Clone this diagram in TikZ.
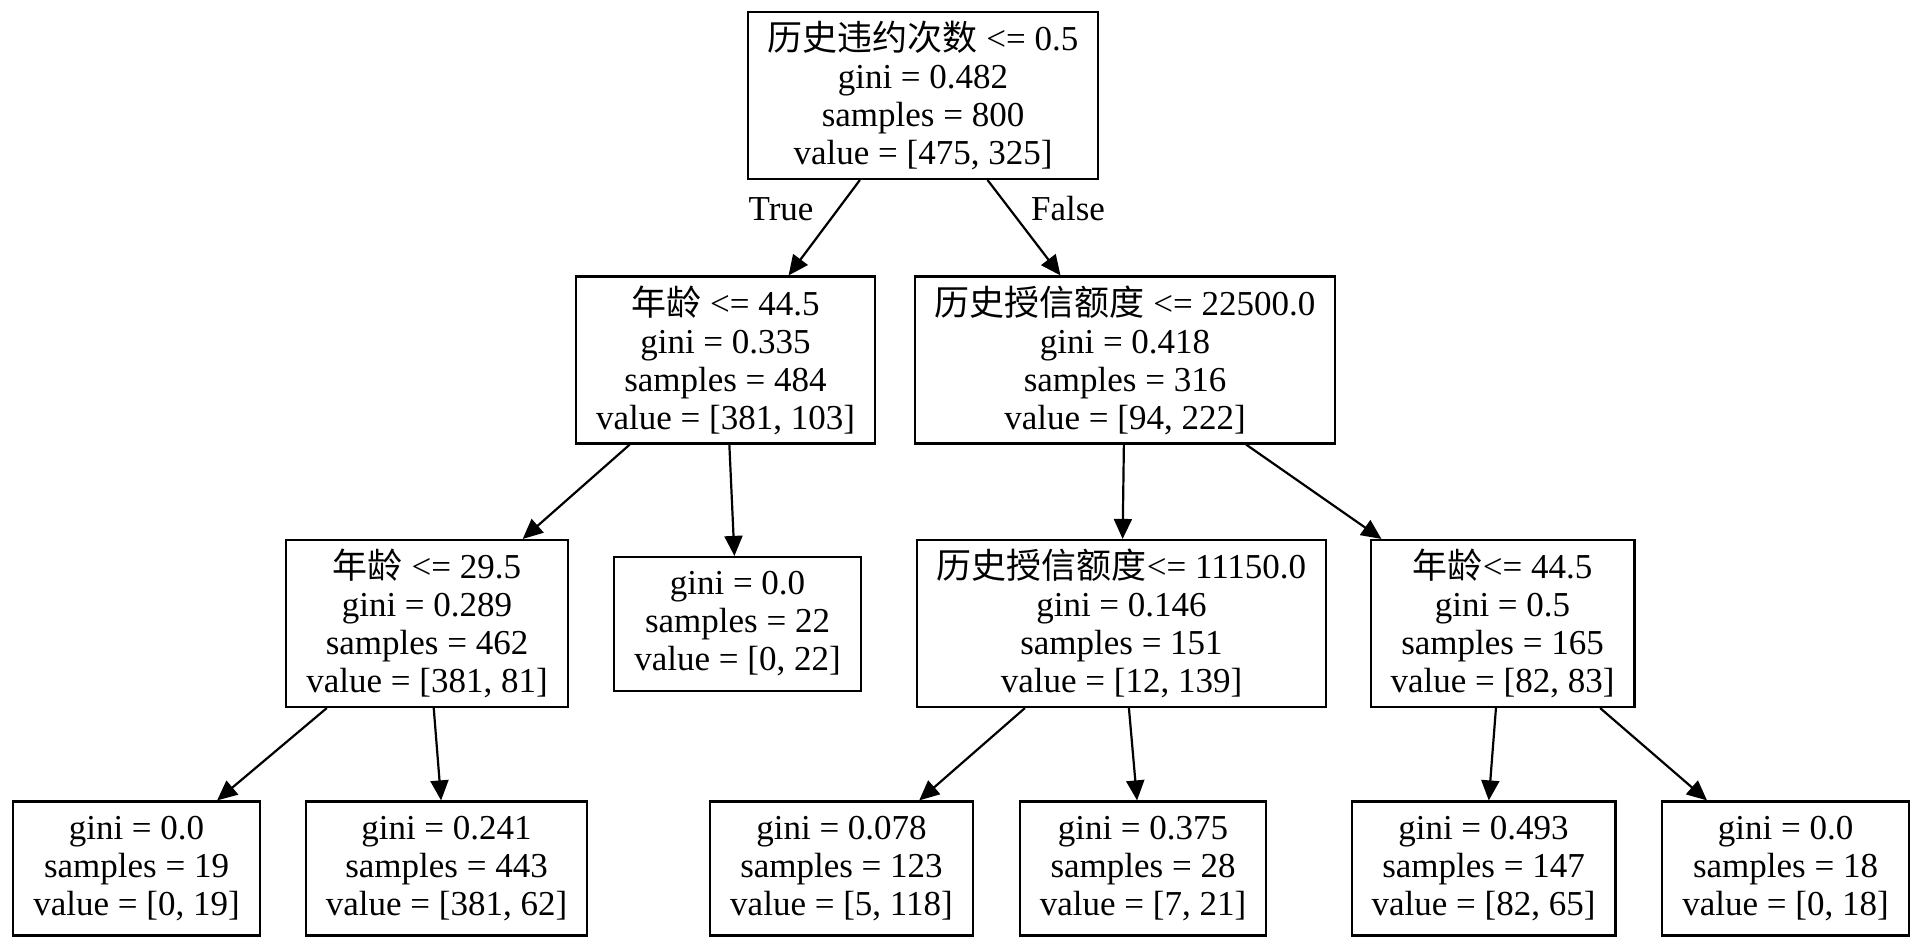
\documentclass[tikz,border=0pt]{standalone}
\usepackage{fontspec}
\setmainfont{Liberation Serif}
\newfontfamily\cjk{Noto Sans CJK SC}
\usetikzlibrary{arrows.meta}
\begin{document}
\begin{tikzpicture}[x=0.5pt,y=-0.5pt,
	every node/.style={ text=black, font=\fontsize{17.5}{19}\selectfont },
	tree/.style={ draw, rectangle, line width=1.1pt, align=center, inner xsep=10pt, inner ysep=4.5pt, minimum height=67pt },
	edge/.style={ line width=1.1pt, -{Triangle[length=10pt,width=9pt]} } ]
			\useasboundingbox (0,0) rectangle (1920,947);
			\node[tree] (root) at (923,95.5) {{\cjk 历史违约次数} <= 0.5\\gini = 0.482\\samples = 800\\value = [475, 325]};

			\node[tree] (t) at (725.5,360) {{\cjk 年龄} <= 44.5\\gini = 0.335\\samples = 484\\value = [381, 103]};
			\node[tree] (f) at (1125,360) {{\cjk 历史授信额度} <= 22500.0\\gini = 0.418\\samples = 316\\value = [94, 222]};

			\node[tree] (tt) at (427,623.5) {{\cjk 年龄} <= 29.5\\gini = 0.289\\samples = 462\\value = [381, 81]};
			\node[tree] (tf) at (737.5,624) {gini = 0.0\\samples = 22\\value = [0, 22]};
			\node[tree] (ft) at (1121.5,623.5) {{\cjk 历史授信额度}<= 11150.0\\gini = 0.146\\samples = 151\\value = [12, 139]};
			\node[tree] (ff) at (1502.5,623.5) {{\cjk 年龄}<= 44.5\\gini = 0.5\\samples = 165\\value = [82, 83]};

			\node[tree] (ttt) at (136.5,868.5) {gini = 0.0\\samples = 19\\value = [0, 19]};
			\node[tree] (ttf) at (446.5,868.5) {gini = 0.241\\samples = 443\\value = [381, 62]};
			\node[tree] (ftt) at (841.5,868.5) {gini = 0.078\\samples = 123\\value = [5, 118]};
			\node[tree] (ftf) at (1143,868.5) {gini = 0.375\\samples = 28\\value = [7, 21]};
			\node[tree] (fft) at (1483.5,868.5) {gini = 0.493\\samples = 147\\value = [82, 65]};
			\node[tree] (fff) at (1785.5,868.5) {gini = 0.0\\samples = 18\\value = [0, 18]};

			\node (true) at (781,209) {True};
			\node (false) at (1068,209) {False};

			\draw[edge] (root) -- (t);
			\draw[edge] (root) -- (f);
			\draw[edge] (t) -- (tt);
			\draw[edge] (t) -- (tf);
			\draw[edge] (f) -- (ft);
			\draw[edge] (f) -- (ff);
			\draw[edge] (tt) -- (ttt);
			\draw[edge] (tt) -- (ttf);
			\draw[edge] (ft) -- (ftt);
			\draw[edge] (ft) -- (ftf);
			\draw[edge] (ff) -- (fft);
			\draw[edge] (ff) -- (fff);
		\end{tikzpicture}
\end{document}
